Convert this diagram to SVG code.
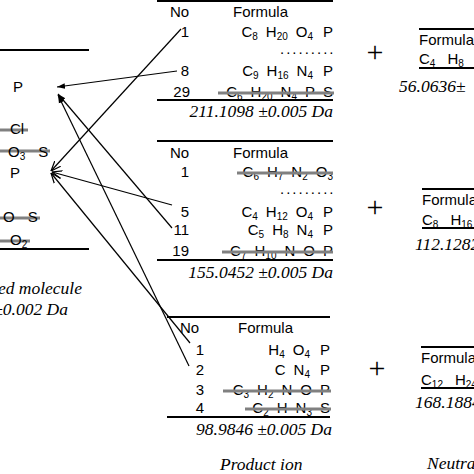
<svg xmlns="http://www.w3.org/2000/svg" width="474" height="474" viewBox="0 0 474 474">
<style>
.f{font-family:"Liberation Sans",Arial,sans-serif;font-size:15px;fill:#000}
.s{font-size:10px}
.m{font-family:"Liberation Serif","Times New Roman",serif;font-style:italic;font-size:17.5px;fill:#000}
.pl{font-family:"Liberation Serif","Times New Roman",serif;font-size:30px;fill:#000}
.rule{stroke:#000;stroke-width:2.2}
.strike{stroke:#808080;stroke-width:3}
.conn{stroke:#000;stroke-width:1.2;fill:none}
</style>
<defs>
<marker id="ah" viewBox="0 0 10 10" refX="10" refY="5" markerWidth="8" markerHeight="8" orient="auto" markerUnits="userSpaceOnUse"><path d="M0,1.5 L10,5 L0,8.5 z" fill="#000"/></marker>
<marker id="av" viewBox="0 0 10 10" refX="10" refY="5" markerWidth="10" markerHeight="10" orient="auto" markerUnits="userSpaceOnUse"><path d="M0,1 L10,5 L0,9" fill="none" stroke="#000" stroke-width="1.2"/></marker>
</defs>
<rect width="474" height="474" fill="#fff"/>

<g id="precursor">
<line class="rule" x1="0" y1="50" x2="89" y2="50"/>
<text class="f" x="13" y="92">P</text>
<line class="strike" x1="0" y1="130" x2="28" y2="130"/>
<text class="f" x="10" y="134">Cl</text>
<line class="strike" x1="0" y1="151" x2="50" y2="151"/>
<text class="f" x="8" y="157">O<tspan class="s" dy="3">3</tspan><tspan dx="13" dy="-3">S</tspan></text>
<text class="f" x="10" y="178">P</text>
<line class="strike" x1="0" y1="218" x2="40" y2="218"/>
<text class="f" x="3" y="222">O<tspan dx="13">S</tspan></text>
<line class="strike" x1="0" y1="241" x2="30" y2="241"/>
<text class="f" x="10" y="245">O<tspan class="s" dy="3">2</tspan></text>
<line class="rule" x1="0" y1="249" x2="89" y2="249"/>
<text class="m" x="82" y="294" text-anchor="end">ged molecule</text>
<text class="m" x="68" y="315" text-anchor="end">±0.002 Da</text>
</g>

<g id="product1">
<line class="rule" x1="157" y1="1" x2="333" y2="1"/>
<text class="f" x="170" y="17">No</text>
<text class="f" x="233" y="17">Formula</text>
<text class="f" x="189" y="37" text-anchor="end">1</text>
<text class="f" x="333" y="37" text-anchor="end">C<tspan class="s" dy="3">8</tspan><tspan dx="8" dy="-3">H</tspan><tspan class="s" dy="3">20</tspan><tspan dx="8" dy="-3">O</tspan><tspan class="s" dy="3">4</tspan><tspan dx="10" dy="-3">P</tspan></text>
<text class="f" x="280" y="54" letter-spacing="2">.........</text>
<text class="f" x="189" y="76" text-anchor="end">8</text>
<text class="f" x="333" y="76" text-anchor="end">C<tspan class="s" dy="3">9</tspan><tspan dx="8" dy="-3">H</tspan><tspan class="s" dy="3">16</tspan><tspan dx="8" dy="-3">N</tspan><tspan class="s" dy="3">4</tspan><tspan dx="10" dy="-3">P</tspan></text>
<text class="f" x="190" y="97" text-anchor="end">29</text>
<text class="f" x="333" y="97" text-anchor="end">C<tspan class="s" dy="3">6</tspan><tspan dx="8" dy="-3">H</tspan><tspan class="s" dy="3">20</tspan><tspan dx="8" dy="-3">N</tspan><tspan class="s" dy="3">4</tspan><tspan dx="8" dy="-3">P</tspan><tspan dx="8">S</tspan></text>
<line class="strike" x1="218" y1="93" x2="334" y2="93"/>
<line class="rule" x1="157" y1="100" x2="333" y2="100"/>
<text class="m" x="333" y="117" text-anchor="end">211.1098 ±0.005 Da</text>
</g>

<g id="product2">
<line class="rule" x1="157" y1="141" x2="333" y2="141"/>
<text class="f" x="170" y="158">No</text>
<text class="f" x="233" y="158">Formula</text>
<text class="f" x="189" y="177" text-anchor="end">1</text>
<text class="f" x="333" y="177" text-anchor="end">C<tspan class="s" dy="3">6</tspan><tspan dx="8" dy="-3">H</tspan><tspan class="s" dy="3">7</tspan><tspan dx="8" dy="-3">N</tspan><tspan class="s" dy="3">2</tspan><tspan dx="8" dy="-3">O</tspan><tspan class="s" dy="3">3</tspan></text>
<line class="strike" x1="237" y1="173" x2="333" y2="173"/>
<text class="f" x="280" y="194" letter-spacing="2">.........</text>
<text class="f" x="189" y="217" text-anchor="end">5</text>
<text class="f" x="333" y="217" text-anchor="end">C<tspan class="s" dy="3">4</tspan><tspan dx="8" dy="-3">H</tspan><tspan class="s" dy="3">12</tspan><tspan dx="8" dy="-3">O</tspan><tspan class="s" dy="3">4</tspan><tspan dx="10" dy="-3">P</tspan></text>
<text class="f" x="189" y="235" text-anchor="end">11</text>
<text class="f" x="333" y="235" text-anchor="end">C<tspan class="s" dy="3">5</tspan><tspan dx="8" dy="-3">H</tspan><tspan class="s" dy="3">8</tspan><tspan dx="8" dy="-3">N</tspan><tspan class="s" dy="3">4</tspan><tspan dx="10" dy="-3">P</tspan></text>
<text class="f" x="189" y="256" text-anchor="end">19</text>
<text class="f" x="333" y="256" text-anchor="end">C<tspan class="s" dy="3">7</tspan><tspan dx="8" dy="-3">H</tspan><tspan class="s" dy="3">10</tspan><tspan dx="8" dy="-3">N</tspan><tspan dx="8">O</tspan><tspan dx="8">P</tspan></text>
<line class="strike" x1="222" y1="252" x2="333" y2="252"/>
<line class="rule" x1="157" y1="260" x2="333" y2="260"/>
<text class="m" x="333" y="278" text-anchor="end">155.0452 ±0.005 Da</text>
</g>

<g id="product3">
<line class="rule" x1="167" y1="317" x2="330" y2="317"/>
<text class="f" x="180" y="333">No</text>
<text class="f" x="238" y="333">Formula</text>
<text class="f" x="204" y="355" text-anchor="end">1</text>
<text class="f" x="330" y="355" text-anchor="end">H<tspan class="s" dy="3">4</tspan><tspan dx="8" dy="-3">O</tspan><tspan class="s" dy="3">4</tspan><tspan dx="10" dy="-3">P</tspan></text>
<text class="f" x="204" y="375" text-anchor="end">2</text>
<text class="f" x="330" y="375" text-anchor="end">C<tspan dx="8">N</tspan><tspan class="s" dy="3">4</tspan><tspan dx="10" dy="-3">P</tspan></text>
<text class="f" x="204" y="395" text-anchor="end">3</text>
<text class="f" x="330" y="395" text-anchor="end">C<tspan class="s" dy="3">3</tspan><tspan dx="8" dy="-3">H</tspan><tspan class="s" dy="3">2</tspan><tspan dx="8" dy="-3">N</tspan><tspan dx="8">O</tspan><tspan dx="8">P</tspan></text>
<line class="strike" x1="223" y1="391" x2="331" y2="391"/>
<text class="f" x="204" y="413" text-anchor="end">4</text>
<text class="f" x="330" y="413" text-anchor="end">C<tspan class="s" dy="3">2</tspan><tspan dx="8" dy="-3">H</tspan><tspan dx="8">N</tspan><tspan class="s" dy="3">3</tspan><tspan dx="8" dy="-3">S</tspan></text>
<line class="strike" x1="245" y1="409" x2="331" y2="409"/>
<line class="rule" x1="167" y1="417" x2="330" y2="417"/>
<text class="m" x="332" y="435" text-anchor="end">98.9846 ±0.005 Da</text>
<text class="m" x="220" y="470">Product ion</text>
</g>

<g id="plus">
<text class="pl" x="375" y="62" text-anchor="middle">+</text>
<text class="pl" x="375" y="217" text-anchor="middle">+</text>
<text class="pl" x="377" y="378" text-anchor="middle">+</text>
</g>

<g id="neutral1">
<line class="rule" x1="419" y1="29" x2="474" y2="29"/>
<text class="f" x="419" y="45">Formula</text>
<text class="f" x="419" y="64">C<tspan class="s" dy="3">4</tspan><tspan dx="12" dy="-3">H</tspan><tspan class="s" dy="3">8</tspan></text>
<line class="rule" x1="419" y1="68" x2="474" y2="68"/>
<text class="m" x="399" y="92">56.0636±</text>
</g>

<g id="neutral2">
<line class="rule" x1="422" y1="189" x2="474" y2="189"/>
<text class="f" x="422" y="205">Formula</text>
<text class="f" x="422" y="225">C<tspan class="s" dy="3">8</tspan><tspan dx="12" dy="-3">H</tspan><tspan class="s" dy="3">16</tspan></text>
<line class="rule" x1="422" y1="228" x2="474" y2="228"/>
<text class="m" x="415" y="250">112.1282</text>
</g>

<g id="neutral3">
<line class="rule" x1="421" y1="347" x2="474" y2="347"/>
<text class="f" x="421" y="363">Formula</text>
<text class="f" x="421" y="385">C<tspan class="s" dy="3">12</tspan><tspan dx="12" dy="-3">H</tspan><tspan class="s" dy="3">24</tspan></text>
<line class="rule" x1="421" y1="388" x2="474" y2="388"/>
<text class="m" x="415" y="408">168.1884</text>
<text class="m" x="427" y="469">Neutra</text>
</g>

<g id="connectors">
<line class="conn" x1="181" y1="29" x2="51" y2="171" marker-end="url(#av)"/>
<line class="conn" x1="177" y1="71" x2="57" y2="87" marker-end="url(#ah)"/>
<line class="conn" x1="172" y1="205" x2="52" y2="172" marker-end="url(#av)"/>
<line class="conn" x1="172" y1="228" x2="58" y2="94" marker-end="url(#ah)"/>
<line class="conn" x1="190" y1="343" x2="51" y2="173" marker-end="url(#av)"/>
<line class="conn" x1="189" y1="366" x2="58" y2="95" marker-end="url(#ah)"/>
</g>
</svg>
